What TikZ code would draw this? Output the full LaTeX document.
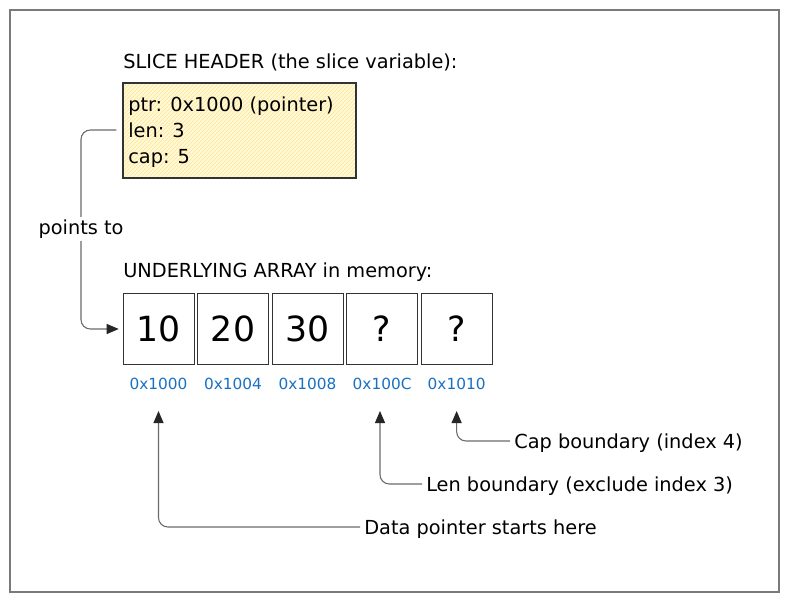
\documentclass[tikz,border=0pt]{standalone}
\usepackage{fontspec}
\setmainfont{DejaVu Sans}
\usetikzlibrary{arrows.meta,positioning,patterns}

\definecolor{framegray}{HTML}{7A7A7A}
\definecolor{linkgray}{HTML}{6B6B6B}
\definecolor{addrblue}{HTML}{1971C2}
\definecolor{notefill}{HTML}{FFF9DB}
\definecolor{notehatch}{HTML}{FFE58A}

\begin{document}
\begin{tikzpicture}[
    x=0.75pt, y=-0.75pt,
    label/.style={anchor=west, inner sep=0pt, text height=12.5pt, text depth=1pt, font=\fontsize{14.5}{17}\selectfont},
    cell/.style={rectangle, draw=black!80, minimum width=53.25pt, minimum height=53.25pt, inner sep=0pt, font=\fontsize{26}{28}\selectfont},
    addr/.style={text=addrblue, inner sep=1pt, font=\fontsize{11.5}{13}\selectfont},
    link/.style={draw=linkgray, line width=0.8pt, rounded corners=7pt, -{Triangle[length=9pt,width=7.5pt,fill=black!85,color=black!85]}}
]

% frame and page size
\draw[framegray, line width=0.8pt, fill=white] (10,10) rectangle (779,592);
\useasboundingbox (0,0) rectangle (789,602);

% slice header
\node (hdrtitle) [label] at (123,61) {SLICE HEADER (the slice variable):};
\fill[notefill] (123,83) rectangle (356,178);
\fill[pattern=north east lines, pattern color=notehatch] (123,83) rectangle (356,178);
\node (hdr) [rectangle, draw=black!80, line width=0.8pt, minimum width=174.75pt, minimum height=71.25pt, inner sep=0pt] at (239.5,130.5) {};
\node (ptr) [label] at (128,104) {ptr: 0x1000 (pointer)};
\node (len) [label] at (128,130) {len: 3};
\node (cap) [label] at (128,156) {cap: 5};

% underlying array
\node (arrtitle) [label] at (123,270) {UNDERLYING ARRAY in memory:};
\node (c1) [cell] at (158.5,329) {10};
\node (c2) [cell, right=2.25pt of c1] {20};
\node (c3) [cell, right=2.25pt of c2] {30};
\node (c4) [cell, right=2.25pt of c3] {?};
\node (c5) [cell, right=2.25pt of c4] {?};

% addresses
\node (a1) [addr] at (c1 |- 0,384) {0x1000};
\node (a2) [addr] at (c2 |- 0,384) {0x1004};
\node (a3) [addr] at (c3 |- 0,384) {0x1008};
\node (a4) [addr] at (c4 |- 0,384) {0x100C};
\node (a5) [addr] at (c5 |- 0,384) {0x1010};

% pointer from header to array
\coordinate (bend) at (81,229);
\draw[link] ([xshift=-4.5pt]hdr.west |- len) -| (bend) |- ([xshift=-3pt]c1.west);
\node (ptlbl) [fill=white, inner sep=2pt, font=\fontsize{14.5}{17}\selectfont] at (bend) {points to};

% notes
\node (dpnote) [label] at (364,527) {Data pointer starts here};
\node (lennote) [label] at (426,484) {Len boundary (exclude index 3)};
\node (capnote) [label] at (514,441) {Cap boundary (index 4)};

\coordinate (tip1) at (a1 |- 0,411);
\coordinate (tip4) at (380,411);
\coordinate (tip5) at (a5 |- 0,411);
\draw[link] ([xshift=-3pt]dpnote.west) -| (tip1);
\draw[link] ([xshift=-3pt]lennote.west) -| (tip4);
\draw[link] ([xshift=-3pt]capnote.west) -| (tip5);

\end{tikzpicture}
\end{document}
